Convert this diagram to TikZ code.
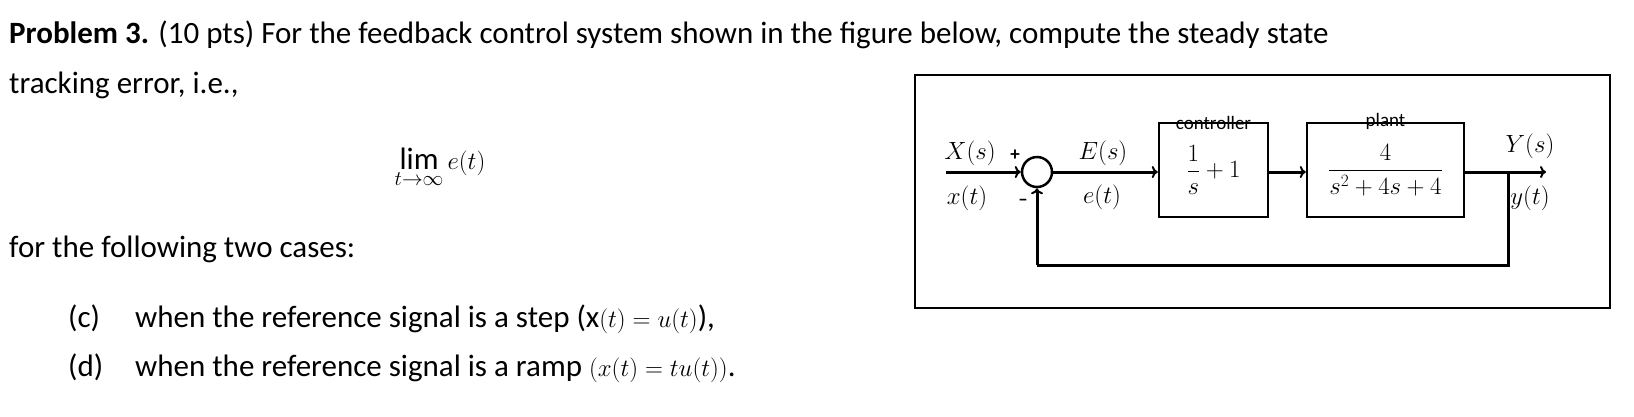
\documentclass[tikz,border=0pt]{standalone}
\usepackage{amsmath}
\usepackage{fontspec}
\setmainfont{Carlito}
\usetikzlibrary{arrows.meta}
\begin{document}
\begin{tikzpicture}[x=1pt,y=-1pt,
  txt/.style={anchor=base west,inner sep=0pt,font=\fontsize{31}{36}\selectfont},
  lab/.style={inner sep=0pt,font=\fontsize{26}{30}\selectfont},
  small/.style={inner sep=0pt,font=\fontsize{19}{22}\selectfont},
  blk/.style={draw,line width=2.5pt,inner sep=0pt,font=\fontsize{26}{30}\selectfont},
  sig/.style={line width=3pt,-{To[length=6pt,width=12pt,line width=2pt]}},
  wire/.style={line width=3pt}]
\useasboundingbox (0,0) rectangle (1634,416);
% text
\node[txt] (t1) at (9,43) {\textbf{Problem 3.} (10 pts) For the feedback control system shown in the figure below, compute the steady state};
\node[txt] (t2) at (9,93) {tracking error, i.e.,};
\node[inner sep=0pt,font=\fontsize{31}{36}\selectfont] (lim) at (440,168) {$\displaystyle\lim_{t\to\infty} e(t)$};
\node[txt] (t3) at (9,257) {for the following two cases:};
\node[txt] (c1) at (68,327) {(c)};
\node[txt] (c2) at (135,327) {when the reference signal is a step (x$(t)=u(t)$),};
\node[txt] (d1) at (68,376) {(d)};
\node[txt] (d2) at (135,376) {when the reference signal is a ramp $(x(t)=tu(t))$.};
% diagram frame
\draw[line width=2.5pt] (915,75) rectangle (1610,308);
\node[draw,circle,line width=2.5pt,minimum size=30pt,inner sep=0pt] (sum) at (1037,172) {};
\node[blk,minimum width=109pt,minimum height=94pt] (ctrl) at (1213.5,170) {$\dfrac{1}{s}+1$};
\node[blk,minimum width=157pt,minimum height=94pt] (plant) at (1385.5,170) {$\dfrac{4}{s^2+4s+4}$};
\node[small,anchor=south] (lc) at (ctrl.north) [yshift=-8pt] {controller};
\node[small,anchor=south] (lp) at (plant.north) [yshift=-8pt] {plant};
\coordinate (in) at (946,172);
\coordinate (tap) at (1508,172);
\coordinate (out) at (1546,172);
\coordinate (b1) at (1508,265);
\coordinate (b2) at (1037,265);
\draw[sig] (in) -- (sum);
\draw[sig] (sum) -- (ctrl.west|-sum);
\draw[sig] (ctrl.east|-sum) -- (plant.west|-sum);
\draw[sig] (plant.east|-sum) -- (out);
\draw[wire] (tap) -- (b1) -- (b2);
\draw[sig] (b2) -- (sum);
% labels
\node[lab] (Xs) at (970,153) {$X(s)$};
\node[lab] (xt) at (967,198) {$x(t)$};
\node[small] (plus) at (1015,155) {\textbf{+}};
\node[small] (minus) at (1023,202) {\textbf{--}};
\node[lab] (Es) at (1103,153) {$E(s)$};
\node[lab] (et) at (1102,197) {$e(t)$};
\node[lab] (Ys) at (1530,146) {$Y(s)$};
\node[lab] (yt) at (1530,198) {$y(t)$};
\end{tikzpicture}
\end{document}
